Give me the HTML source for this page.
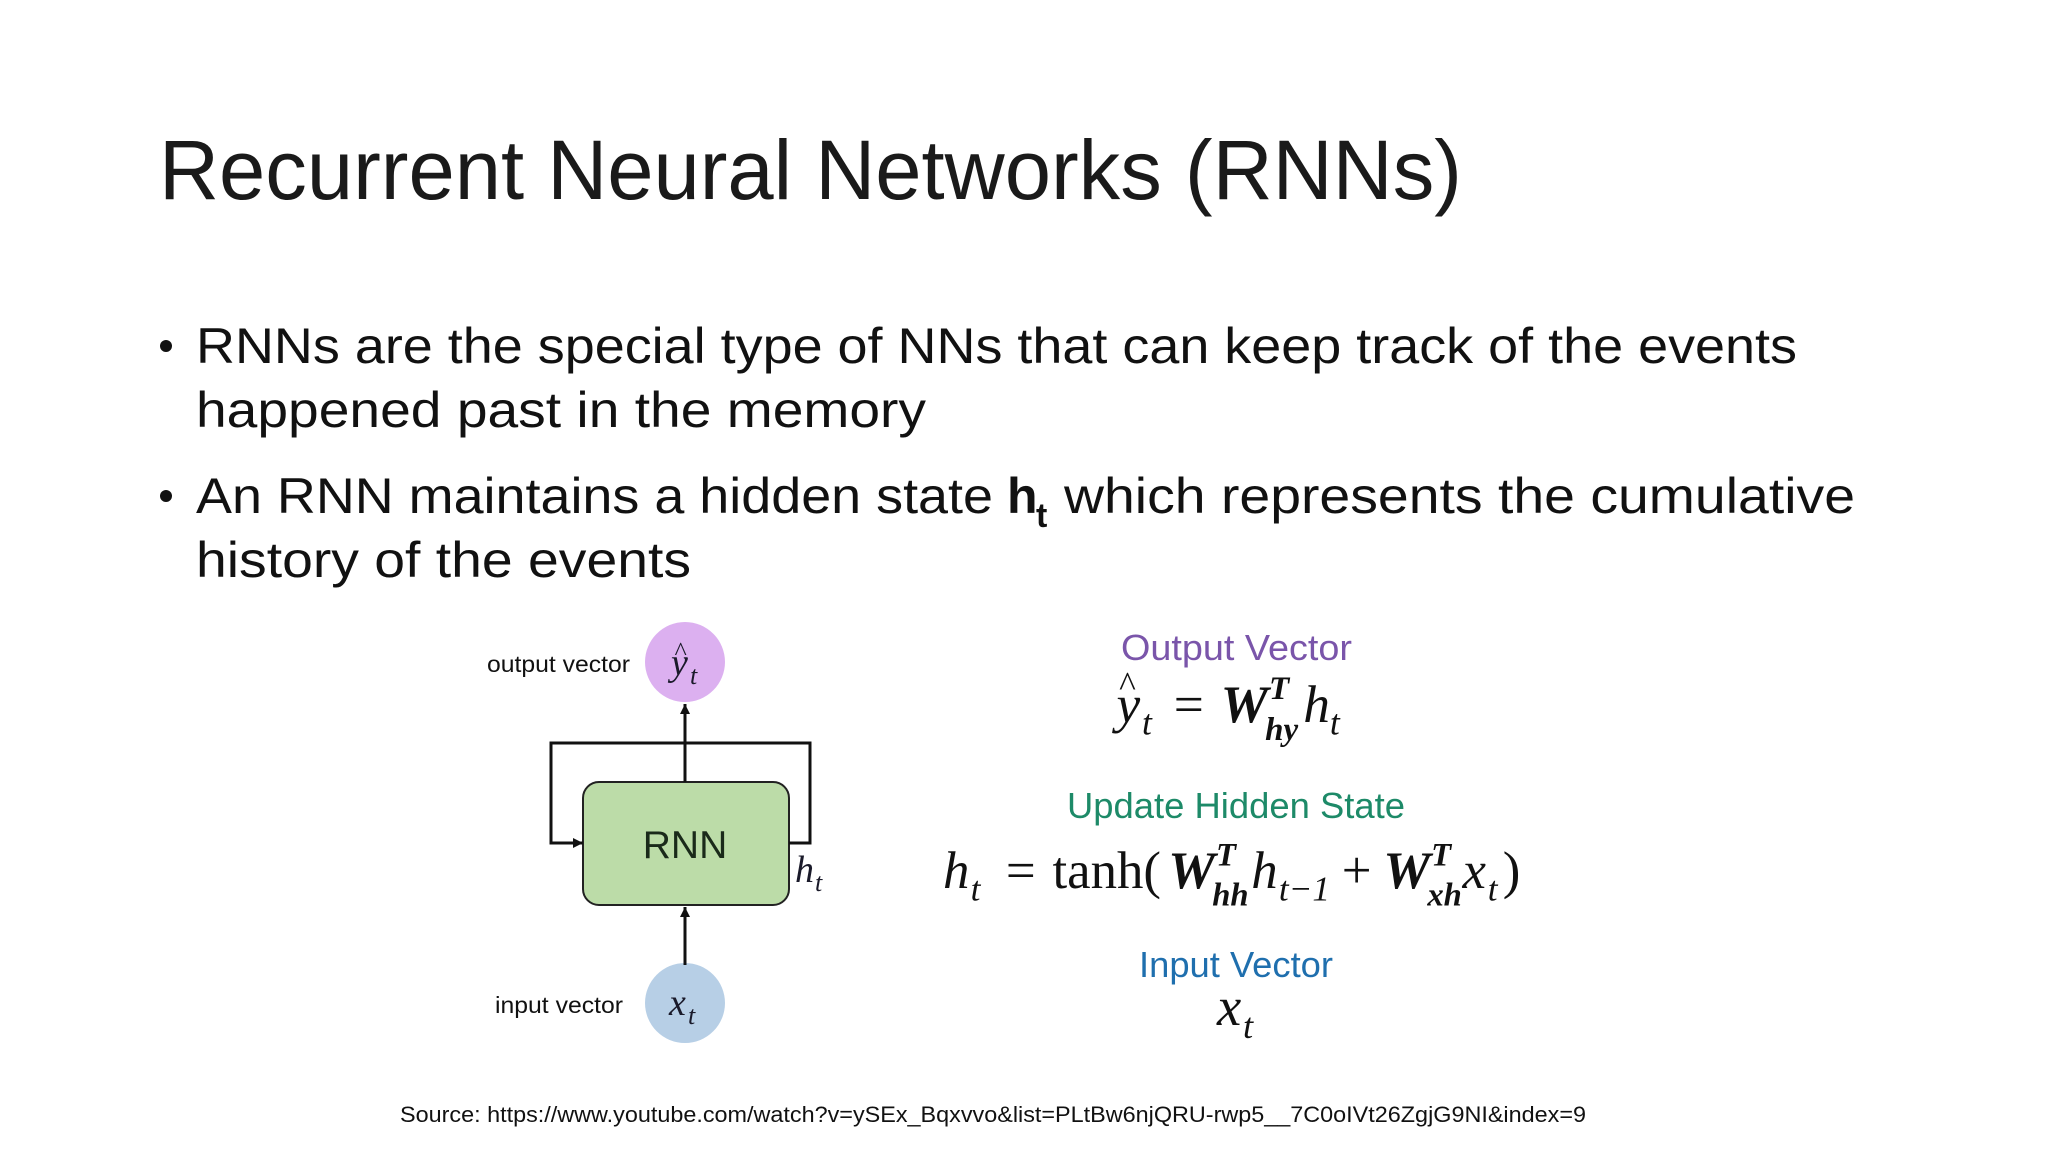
<!DOCTYPE html>
<html><head><meta charset="utf-8"><style>
html,body{margin:0;padding:0;background:#fff;}
svg{display:block;}
</style></head><body>
<svg width="2048" height="1152" viewBox="0 0 2048 1152" xmlns="http://www.w3.org/2000/svg">
<rect width="2048" height="1152" fill="#fff"/>
<defs>
<marker id="ah" viewBox="0 0 10 10" refX="10" refY="5" markerWidth="10" markerHeight="10" markerUnits="userSpaceOnUse" orient="auto">
<path d="M0,0 L10,5 L0,10 z" fill="#111"/></marker>
</defs>
<g font-family="Liberation Sans, sans-serif" fill="#111">
<text x="159" y="199" font-size="84" textLength="1303" lengthAdjust="spacingAndGlyphs" fill="#1a1a1a">Recurrent Neural Networks (RNNs)</text>
<circle cx="166" cy="346" r="6"/>
<circle cx="166" cy="496" r="6"/>
<text x="196" y="363" font-size="50" textLength="1601" lengthAdjust="spacingAndGlyphs">RNNs are the special type of NNs that can keep track of the events</text>
<text x="196" y="427" font-size="50" textLength="730" lengthAdjust="spacingAndGlyphs">happened past in the memory</text>
<text x="196" y="513" font-size="50" textLength="797" lengthAdjust="spacingAndGlyphs">An RNN maintains a hidden state</text>
<text x="1007" y="513" font-size="50" font-weight="bold">h</text>
<text x="1036" y="527" font-size="34" font-weight="bold">t</text>
<text x="1064" y="513" font-size="50" textLength="791" lengthAdjust="spacingAndGlyphs">which represents the cumulative</text>
<text x="196" y="577" font-size="50" textLength="495" lengthAdjust="spacingAndGlyphs">history of the events</text>

<!-- diagram -->
<circle cx="685" cy="662" r="40" fill="#dcb0f0"/>
<circle cx="685" cy="1003" r="40" fill="#b7cfe6"/>
<rect x="583" y="782" width="206" height="123" rx="16" fill="#bcdca8" stroke="#222" stroke-width="2"/>
<polyline points="789,843 810,843 810,743 551,743 551,843 583,843" fill="none" stroke="#111" stroke-width="3" marker-end="url(#ah)"/>
<line x1="685" y1="782" x2="685" y2="704" stroke="#111" stroke-width="3" marker-end="url(#ah)"/>
<line x1="685" y1="965" x2="685" y2="907" stroke="#111" stroke-width="3" marker-end="url(#ah)"/>
<text x="685" y="858" font-size="39" text-anchor="middle" fill="#1a2a1a">RNN</text>
<text x="487" y="672" font-size="23" textLength="143" lengthAdjust="spacingAndGlyphs">output vector</text>
<text x="495" y="1013" font-size="23" textLength="128" lengthAdjust="spacingAndGlyphs">input vector</text>
<g font-family="Liberation Serif, serif" font-style="italic" fill="#1a1a2a">
<text x="671" y="675" font-size="38">y</text><text x="674" y="660" font-size="26">^</text><text x="690" y="684" font-size="26">t</text>
<text x="669" y="1015" font-size="38">x</text><text x="688" y="1024" font-size="26">t</text>
<text x="795" y="882" font-size="38">h</text><text x="815" y="891" font-size="26">t</text>
</g>
</g>

<!-- equations -->
<g font-family="Liberation Sans, sans-serif">
<text x="1121" y="660" font-size="36" fill="#7a55aa" textLength="231" lengthAdjust="spacingAndGlyphs">Output Vector</text>
<text x="1067" y="818" font-size="36" fill="#1d8a68" textLength="338" lengthAdjust="spacingAndGlyphs">Update Hidden State</text>
<text x="1139" y="977" font-size="36" fill="#1f6fae" textLength="194" lengthAdjust="spacingAndGlyphs">Input Vector</text>
</g>
<g font-family="Liberation Serif, serif" fill="#111">
<g transform="translate(1114,722) scale(1.27) translate(-1071,-720)">
<text x="1073" y="720" font-size="42" font-style="italic">y</text>
<text x="1075" y="700" font-size="28">^</text>
<text x="1093" y="730" font-size="28" font-style="italic">t</text>
<text x="1118" y="720" font-size="42">=</text>
<text x="1155" y="720" font-size="42" font-style="italic" font-weight="bold">W</text>
<text x="1193" y="702" font-size="26" font-style="italic" font-weight="bold">T</text>
<text x="1190" y="734" font-size="26" font-style="italic" font-weight="bold">hy</text>
<text x="1220" y="720" font-size="42" font-style="italic">h</text>
<text x="1241" y="730" font-size="28" font-style="italic">t</text>
</g>
<g transform="translate(943,888) scale(1.258) translate(-933,-887)">
<text x="933" y="887" font-size="42" font-style="italic">h</text>
<text x="955" y="897" font-size="28" font-style="italic">t</text>
<text x="983" y="887" font-size="42">=</text>
<text x="1020" y="887" font-size="42">tanh(</text>
<text x="1112" y="887" font-size="42" font-style="italic" font-weight="bold">W</text>
<text x="1150" y="869" font-size="26" font-style="italic" font-weight="bold">T</text>
<text x="1147" y="901" font-size="26" font-style="italic" font-weight="bold">hh</text>
<text x="1178" y="887" font-size="42" font-style="italic">h</text>
<text x="1200" y="897" font-size="28" font-style="italic">t−1</text>
<text x="1250" y="887" font-size="42">+</text>
<text x="1283" y="887" font-size="42" font-style="italic" font-weight="bold">W</text>
<text x="1321" y="869" font-size="26" font-style="italic" font-weight="bold">T</text>
<text x="1318" y="901" font-size="26" font-style="italic" font-weight="bold">xh</text>
<text x="1346" y="887" font-size="42" font-style="italic">x</text>
<text x="1366" y="897" font-size="28" font-style="italic">t</text>
<text x="1378" y="887" font-size="42">)</text>
</g>
<g transform="translate(1217,1025) scale(1.3) translate(-1155,-1020)">
<text x="1155" y="1020" font-size="42" font-style="italic">x</text>
<text x="1175" y="1030" font-size="28" font-style="italic">t</text>
</g>
</g>
<text x="400" y="1122" font-family="Liberation Sans, sans-serif" font-size="22" fill="#111" textLength="1186" lengthAdjust="spacingAndGlyphs">Source: https://www.youtube.com/watch?v=ySEx_Bqxvvo&amp;list=PLtBw6njQRU-rwp5__7C0oIVt26ZgjG9NI&amp;index=9</text>
</svg>
</body></html>
